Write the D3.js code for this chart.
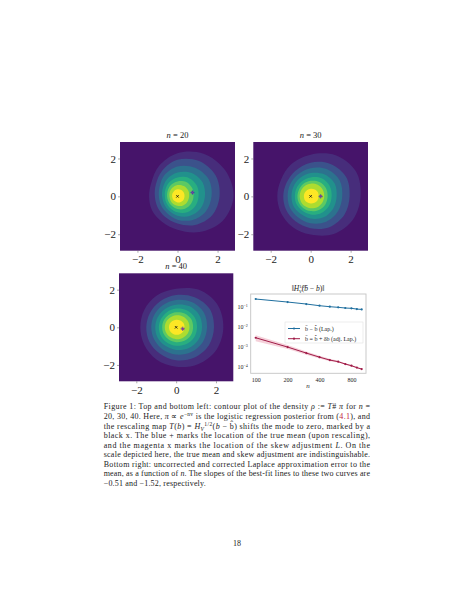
<!DOCTYPE html>
<html>
<head>
<meta charset="utf-8">
<script src="https://d3js.org/d3.v7.min.js"></script>
<style>
	html, body { margin: 0; padding: 0; background: #fff; }
	svg { display: block; }
	text { font-family: "Liberation Serif", serif; fill: #222; }
</style>
</head>
<body>
<script>
// radii (data units), one ring per row, every 30 degrees from +x
var angles = [0, 30, 60, 90, 120, 150, 180, 210, 240, 270, 300, 330];

var rings20 = [
	[2.80, 2.75, 2.60, 2.28, 1.85, 1.50, 1.42, 1.47, 1.55, 1.77, 2.18, 2.60],
	[2.10, 2.20, 2.15, 1.93, 1.55, 1.25, 1.13, 1.15, 1.25, 1.44, 1.75, 2.00],
	[1.70, 1.80, 1.75, 1.58, 1.30, 1.03, 0.93, 0.95, 1.03, 1.23, 1.45, 1.62],
	[1.37, 1.45, 1.42, 1.26, 1.05, 0.85, 0.77, 0.78, 0.87, 1.02, 1.20, 1.32],
	[1.05, 1.12, 1.12, 1.00, 0.85, 0.70, 0.63, 0.65, 0.72, 0.84, 0.97, 1.03],
	[0.80, 0.85, 0.87, 0.79, 0.68, 0.57, 0.52, 0.53, 0.58, 0.67, 0.75, 0.78],
	[0.58, 0.62, 0.63, 0.60, 0.52, 0.45, 0.40, 0.41, 0.45, 0.50, 0.56, 0.57],
	[0.35, 0.37, 0.38, 0.37, 0.33, 0.29, 0.27, 0.27, 0.29, 0.32, 0.34, 0.35]
];
var rings30 = [
	[2.50, 2.62, 2.50, 2.20, 1.95, 1.72, 1.67, 1.72, 1.85, 2.02, 2.30, 2.45],
	[1.95, 2.05, 1.98, 1.78, 1.55, 1.40, 1.37, 1.42, 1.52, 1.68, 1.88, 1.95],
	[1.58, 1.68, 1.65, 1.49, 1.32, 1.20, 1.15, 1.20, 1.27, 1.42, 1.55, 1.58],
	[1.30, 1.38, 1.35, 1.23, 1.10, 1.00, 0.96, 1.00, 1.05, 1.17, 1.28, 1.30],
	[1.05, 1.10, 1.10, 1.00, 0.90, 0.82, 0.79, 0.82, 0.87, 0.96, 1.03, 1.05],
	[0.85, 0.88, 0.88, 0.82, 0.75, 0.68, 0.66, 0.68, 0.72, 0.78, 0.83, 0.85],
	[0.68, 0.70, 0.70, 0.67, 0.62, 0.57, 0.55, 0.56, 0.59, 0.63, 0.66, 0.67],
	[0.40, 0.42, 0.42, 0.40, 0.37, 0.35, 0.34, 0.35, 0.36, 0.38, 0.39, 0.40]
];
var rings40 = [
	[2.37, 2.40, 2.30, 2.05, 1.95, 1.85, 1.80, 1.85, 1.98, 2.10, 2.25, 2.35],
	[1.90, 1.95, 1.85, 1.72, 1.60, 1.52, 1.50, 1.55, 1.62, 1.75, 1.85, 1.90],
	[1.55, 1.60, 1.55, 1.45, 1.35, 1.28, 1.25, 1.28, 1.36, 1.45, 1.52, 1.55],
	[1.30, 1.33, 1.30, 1.20, 1.12, 1.07, 1.05, 1.08, 1.12, 1.20, 1.27, 1.30],
	[1.05, 1.07, 1.05, 1.00, 0.93, 0.88, 0.87, 0.89, 0.93, 0.98, 1.03, 1.05],
	[0.85, 0.87, 0.85, 0.80, 0.76, 0.72, 0.70, 0.72, 0.75, 0.79, 0.83, 0.85],
	[0.67, 0.68, 0.67, 0.64, 0.60, 0.58, 0.57, 0.58, 0.60, 0.63, 0.65, 0.67],
	[0.42, 0.43, 0.42, 0.40, 0.38, 0.37, 0.36, 0.37, 0.38, 0.40, 0.41, 0.42]
];

var adjust20 = [0.75, 0.20];
var adjust30 = [0.50, 0.00];
var adjust40 = [0.33, -0.08];

var ringColors = ["#472d7b", "#3b528b", "#2c728e", "#21918c", "#28ae80", "#5ec962", "#addc30", "#fde725"];
var contourTicks = [-2, 0, 2];

// bottom right panel
var ns = [100, 200, 300, 400, 500, 600, 700, 800, 900, 1000];
var lapErr = [0.242, 0.171, 0.136, 0.112, 0.100, 0.093, 0.086, 0.083, 0.076, 0.073];
var adjErr = [0.0028, 0.00096, 0.00048, 0.00030, 0.000215, 0.000178, 0.000136, 0.000112, 0.00009, 0.000076];
var adjHi = [0.0037, 0.00122, 0.00058, 0.00035, 0.00025, 0.000200, 0.000150, 0.000122, 0.000098, 0.000082];
var adjLo = [0.0019, 0.00076, 0.00040, 0.00026, 0.00019, 0.000160, 0.000124, 0.000103, 0.000083, 0.000070];
var errXTicks = [100, 200, 400, 800];
var errYTicks = [1e-1, 1e-2, 1e-3, 1e-4];
var errExp = { 0.1: "−1", 0.01: "−2", 0.001: "−3", 0.0001: "−4" };

// | toggles italic, [..] is a red reference
var caption = [
	"Figure 1: Top and bottom left: contour plot of the density |ρ| := |T|# |π| for |n| =",
	"20, 30, 40. Here, |π| ∝ |e|^−nv^ is the logistic regression posterior from ([4.1]), and",
	"the rescaling map |T|(|b|) = |H|~V~^1/2^(|b| − b̂) shifts the mode to zero, marked by a",
	"black x. The blue + marks the location of the true mean (upon rescaling),",
	"and the magenta x marks the location of the skew adjustment |L|. On the",
	"scale depicted here, the true mean and skew adjustment are indistinguishable.",
	"Bottom right: uncorrected and corrected Laplace approximation error to the",
	"mean, as a function of |n|. The slopes of the best-fit lines to these two curves are",
	"−0.51 and −1.52, respectively."
];

var width = 474, height = 613;
var svg = d3.select("body").append("svg").attr("width", width).attr("height", height);

svg.append("rect").attr("width", width).attr("height", height).attr("fill", "#fff");

var line = d3.line().curve(d3.curveCatmullRomClosed);

// Draw one of the three density panels
function contourPanel(box, title, rings, adjust, id) {

	var x = d3.scaleLinear().domain([-2.87, 2.87]).range([box.left, box.right]);
	var y = d3.scaleLinear().domain([-2.87, 2.87]).range([box.bottom, box.top]);

	svg.append("clipPath").attr("id", id).append("rect")
		.attr("x", box.left).attr("y", box.top)
		.attr("width", box.right - box.left).attr("height", box.bottom - box.top);

	var g = svg.append("g");

	g.append("rect")
		.attr("x", box.left).attr("y", box.top)
		.attr("width", box.right - box.left).attr("height", box.bottom - box.top)
		.attr("fill", "#46146a");

	g.append("g").attr("clip-path", "url(#" + id + ")")
		.selectAll("path").data(rings).enter().append("path")
		.attr("fill", function(d, i) { return ringColors[i]; })
		.attr("d", function(d) {
			return line(d.map(function(r, i) {
				var a = angles[i] * Math.PI / 180;
				return [x(r * Math.cos(a)), y(r * Math.sin(a))];
			}));
		});

	// mode, true mean, skew adjustment
	g.append("path")
		.attr("transform", "translate(" + x(0) + "," + y(0) + ")")
		.attr("d", d3.symbol().type(d3.symbolTimes).size(5)())
		.attr("fill", "none").attr("stroke", "#111").attr("stroke-width", 0.8);
	g.append("path")
		.attr("transform", "translate(" + x(adjust[0]) + "," + y(adjust[1]) + ")")
		.attr("d", d3.symbol().type(d3.symbolPlus).size(7)())
		.attr("fill", "none").attr("stroke", "#1f4fb0").attr("stroke-width", 0.8);
	g.append("path")
		.attr("transform", "translate(" + x(adjust[0]) + "," + y(adjust[1]) + ")")
		.attr("d", d3.symbol().type(d3.symbolTimes).size(5)())
		.attr("fill", "none").attr("stroke", "#a8189a").attr("stroke-width", 0.8);

	var xAxis = g.append("g").attr("transform", "translate(0," + box.bottom + ")")
		.call(d3.axisBottom(x).tickValues(contourTicks).tickSize(2).tickPadding(3).tickFormat(d3.format("d")));
	var yAxis = g.append("g").attr("transform", "translate(" + box.left + ",0)")
		.call(d3.axisLeft(y).tickValues(contourTicks).tickSize(2).tickPadding(2).tickFormat(d3.format("d")));

	[xAxis, yAxis].forEach(function(a) {
		a.select(".domain").remove();
		a.selectAll("line").attr("stroke", "#555").attr("stroke-width", 0.5);
		a.selectAll("text").attr("font-size", 11).attr("font-family", "Liberation Serif").attr("fill", "#222");
	});

	var t = g.append("text")
		.attr("x", (box.left + box.right) / 2).attr("y", box.top - 4.5)
		.attr("text-anchor", "middle").attr("font-size", 8.5);
	t.append("tspan").attr("font-style", "italic").text(title[0]);
	t.append("tspan").text(title[1]);
}

contourPanel({ left: 120, right: 235, top: 142, bottom: 250.7 }, ["n", " = 20"], rings20, adjust20, "clip20");
contourPanel({ left: 253.3, right: 368, top: 142, bottom: 250.7 }, ["n", " = 30"], rings30, adjust30, "clip30");
contourPanel({ left: 119, right: 233.3, top: 273.3, bottom: 381.3 }, ["n", " = 40"], rings40, adjust40, "clip40");

// Error panel
var errBox = { left: 250.7, right: 366, top: 294, bottom: 373.3 };
var ex = d3.scaleLog().domain([100, 1000]).range([255.7, 361.7]);
var ey = d3.scaleLog().domain([1e-1, 1e-4]).range([306.7, 366.7]);
var err = svg.append("g");

err.append("path")
	.datum(ns)
	.attr("fill", "#d9476a").attr("fill-opacity", 0.25)
	.attr("d", d3.area()
		.x(function(d) { return ex(d); })
		.y0(function(d, i) { return ey(adjLo[i]); })
		.y1(function(d, i) { return ey(adjHi[i]); }));

function errSeries(values, color) {
	var pts = ns.map(function(d, i) { return [ex(d), ey(values[i])]; });
	err.append("path").attr("d", d3.line()(pts))
		.attr("fill", "none").attr("stroke", color).attr("stroke-width", 1);
	err.selectAll(null).data(pts).enter().append("circle")
		.attr("cx", function(d) { return d[0]; })
		.attr("cy", function(d) { return d[1]; })
		.attr("r", 1.1).attr("fill", color);
}
errSeries(lapErr, "#1f6f9f");
errSeries(adjErr, "#a01c48");

err.append("rect")
	.attr("x", errBox.left).attr("y", errBox.top)
	.attr("width", errBox.right - errBox.left).attr("height", errBox.bottom - errBox.top)
	.attr("fill", "none").attr("stroke", "#c4c4c4").attr("stroke-width", 0.9);

var exAxis = err.append("g").attr("transform", "translate(0," + errBox.bottom + ")")
	.call(d3.axisBottom(ex).tickValues(errXTicks).tickSize(0).tickPadding(4).tickFormat(d3.format("d")));
var eyAxis = err.append("g").attr("transform", "translate(" + errBox.left + ",0)")
	.call(d3.axisLeft(ey).tickValues(errYTicks).tickSize(0).tickPadding(3).tickFormat(function() { return ""; }));

exAxis.select(".domain").remove();
eyAxis.select(".domain").remove();
exAxis.selectAll("text").attr("font-size", 6).attr("font-family", "Liberation Serif").attr("fill", "#333");

var eyLabel = eyAxis.selectAll(".tick text").attr("font-size", 6).attr("font-family", "Liberation Serif").attr("fill", "#333");
eyLabel.append("tspan").text("10");
eyLabel.append("tspan").attr("font-size", 4).attr("dy", -2.5).text(function(d) { return errExp[d]; });

err.append("text").attr("x", 308).attr("y", 388).attr("text-anchor", "middle")
	.attr("font-size", 7).attr("font-style", "italic").text("n");

var errTitle = err.append("text").attr("x", 308).attr("y", 291).attr("text-anchor", "middle").attr("font-size", 7.5);
errTitle.append("tspan").text("‖");
errTitle.append("tspan").attr("font-style", "italic").text("H");
errTitle.append("tspan").attr("font-size", 4.5).attr("dy", -3).text("1/2");
errTitle.append("tspan").attr("font-size", 4.5).attr("dy", 5).attr("dx", -6).attr("font-style", "italic").text("V");
errTitle.append("tspan").attr("dy", -2).text("(");
errTitle.append("tspan").attr("font-style", "italic").text("b̄");
errTitle.append("tspan").text(" − ");
errTitle.append("tspan").attr("font-style", "italic").text("b");
errTitle.append("tspan").text(")‖");

// legend
err.append("rect")
	.attr("x", 285).attr("y", 322).attr("width", 78).attr("height", 21)
	.attr("fill", "#fff").attr("fill-opacity", 0.85).attr("stroke", "#e2e2e2").attr("stroke-width", 0.6);

var legend = err.selectAll(".legend").data([
	{ color: "#1f6f9f", label: "b̄ − b̂ (Lap.)" },
	{ color: "#a01c48", label: "b̄ = b̂ + δb (adj. Lap.)" }
]).enter().append("g").attr("class", "legend")
	.attr("transform", function(d, i) { return "translate(0," + (328.5 + i * 10.2) + ")"; });
legend.append("line").attr("x1", 288).attr("x2", 300)
	.attr("stroke", function(d) { return d.color; }).attr("stroke-width", 1);
legend.append("circle").attr("cx", 294).attr("r", 1.1).attr("fill", function(d) { return d.color; });
legend.append("text").attr("x", 305).attr("y", 2).attr("font-size", 6).attr("fill", "#333")
	.text(function(d) { return d.label; });

// Caption
function captionLine(sel, s) {
	var tokens = s.split(/(\|[^|]*\||\[[^\]]*\]|\^[^^]*\^|~[^~]*~)/).filter(function(d) { return d.length; });
	var shift = 0;
	tokens.forEach(function(tok) {
		var t = sel.append("tspan");
		var dy = -shift;
		shift = 0;
		if (tok[0] === "|") {
			t.attr("font-style", "italic").text(tok.slice(1, -1));
		} else if (tok[0] === "[") {
			t.attr("fill", "#c0203c").text(tok.slice(1, -1));
		} else if (tok[0] === "^") {
			t.attr("font-size", 5.5).text(tok.slice(1, -1));
			dy += -3; shift = -3;
		} else if (tok[0] === "~") {
			t.attr("font-size", 5.5).attr("font-style", "italic").text(tok.slice(1, -1));
			dy += 2; shift = 2;
		} else {
			t.text(tok);
		}
		if (dy) t.attr("dy", dy);
	});
}

var captionY = [409, 418.8, 428.6, 438.2, 447.8, 457.4, 467, 476.4, 485.8];

svg.append("g").selectAll("text").data(caption).enter().append("text")
	.attr("x", 103.7)
	.attr("y", function(d, i) { return captionY[i]; })
	.attr("font-size", 8)
	.attr("textLength", function(d, i) { return i < caption.length - 1 ? 266.3 : 102; })
	.attr("lengthAdjust", "spacing")
	.each(function(d) { captionLine(d3.select(this), d); });

svg.append("text").attr("x", 237).attr("y", 546).attr("text-anchor", "middle").attr("font-size", 8).text("18");

</script>
</body>
</html>
